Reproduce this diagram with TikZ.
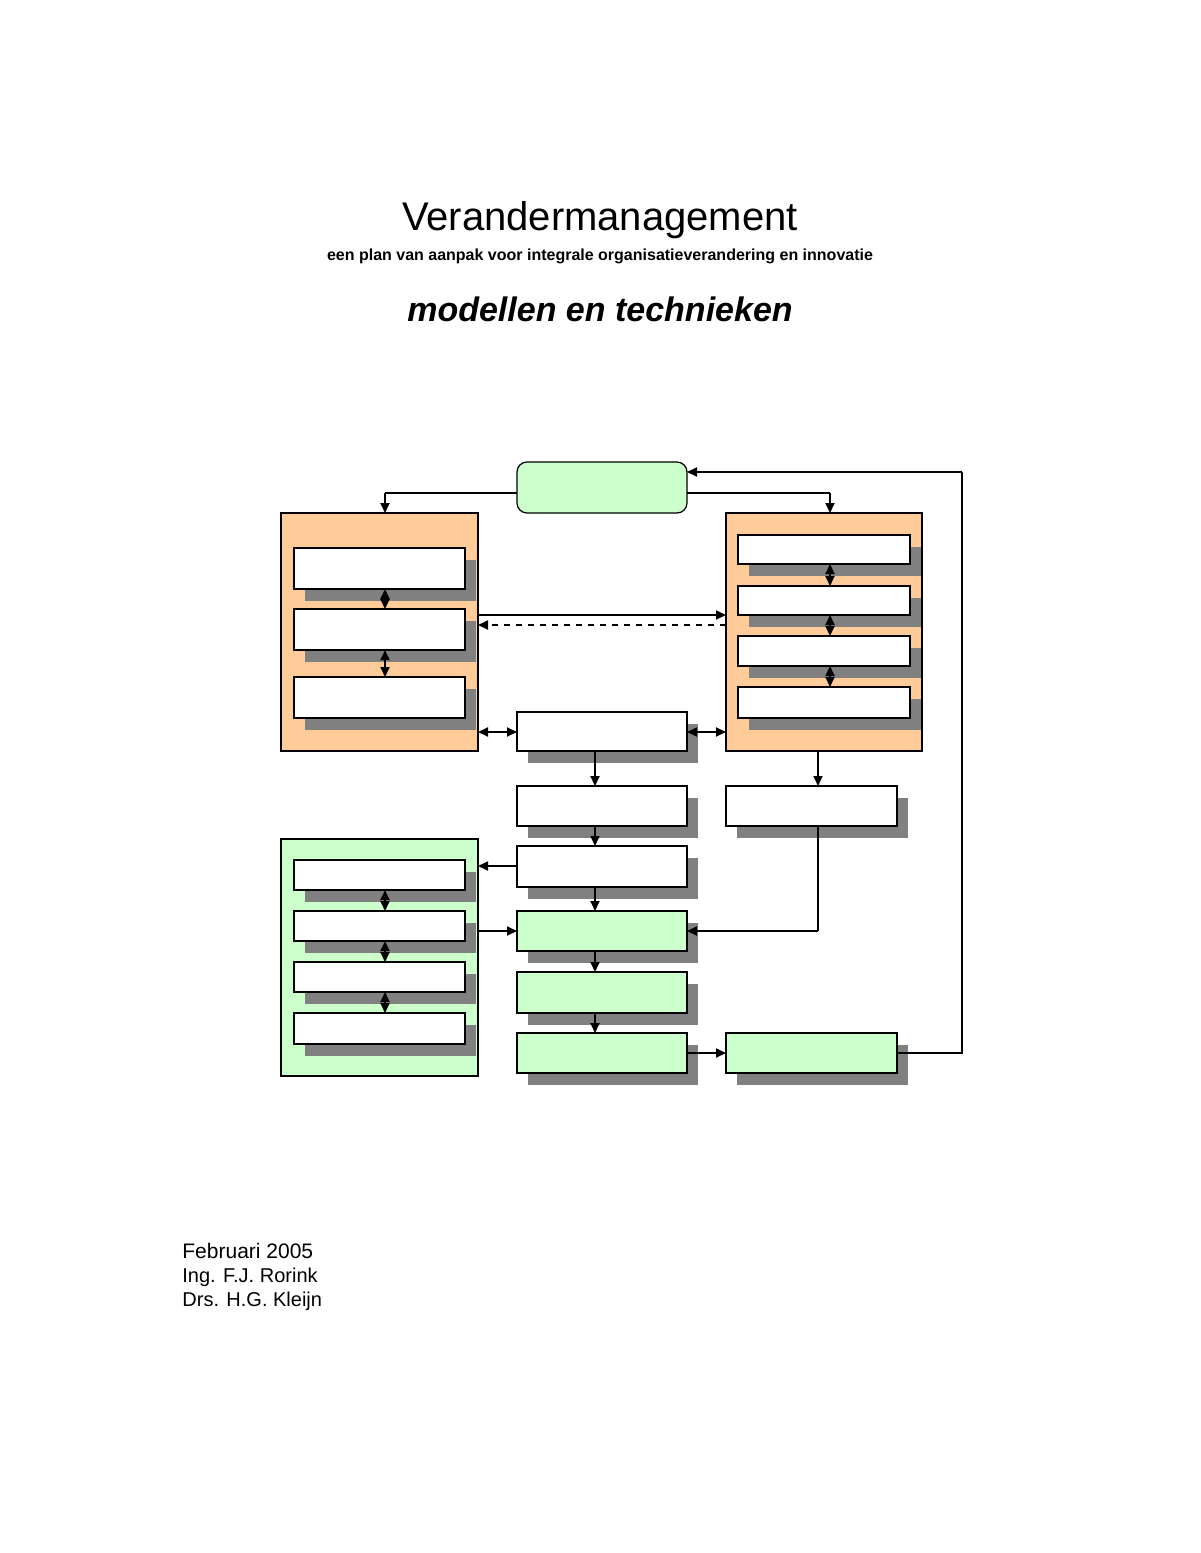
\documentclass[tikz,border=0pt]{standalone}
\usepackage{fontspec}
\setmainfont{Liberation Sans}
\usetikzlibrary{arrows.meta}
\begin{document}
\begin{tikzpicture}[x=0.5pt,y=-0.5pt,
  ar/.style={line width=0.9pt,-{Triangle[length=5pt,width=4.5pt]}},
  dar/.style={line width=0.9pt,{Triangle[length=5pt,width=4.5pt]}-{Triangle[length=5pt,width=4.5pt]}},
  ln/.style={line width=0.6pt}]
\useasboundingbox (0,0) rectangle (1200,1553);
\definecolor{org}{RGB}{255,204,153}
\definecolor{grn}{RGB}{204,255,204}
\definecolor{shd}{RGB}{128,128,128}
\node (title) at (600,220) {\fontsize{20}{24}\selectfont Verandermanagement};
\node (sub) at (600,256) {\fontsize{8}{10}\selectfont\bfseries een plan van aanpak voor integrale organisatieverandering en innovatie};
\node (mod) at (600,309) {\fontsize{17}{20}\selectfont\bfseries\itshape modellen en technieken};
\node[anchor=north west,align=left,inner sep=0] (auth) at (182,1243) {\fontsize{10.5}{12.6}\selectfont Februari 2005\\Ing. F.J. Rorink\\Drs. H.G. Kleijn};
% containers
\fill[org] (281,513) rectangle (478,751); \draw[ln] (281,513) rectangle (478,751);
\fill[org] (726,513) rectangle (922,751); \draw[ln] (726,513) rectangle (922,751);
\fill[grn] (281,839) rectangle (478,1076); \draw[ln] (281,839) rectangle (478,1076);
\foreach \a/\b/\c/\d/\f in {294/548/465/589/white,294/609/465/650/white,294/677/465/718/white,
 738/535/910/564/white,738/586/910/615/white,738/636/910/666/white,738/687/910/718/white,
 517/712/687/751/white,517/786/687/826/white,726/786/897/826/white,517/846/687/887/white,
 517/911/687/951/grn,517/972/687/1013/grn,517/1033/687/1073/grn,726/1033/897/1073/grn,
 294/860/465/890/white,294/911/465/941/white,294/962/465/992/white,294/1013/465/1044/white}{
 \fill[shd] (\a+11,\b+12) rectangle (\c+11,\d+12);
 \draw[ln,fill=\f] (\a,\b) rectangle (\c,\d);}
\draw[ln,fill=grn,rounded corners=5pt] (517,462) rectangle (687,513);
% connectors
\draw[ln] (517,493) -- (385,493); \draw[ar] (385,493) -- (385,513);
\draw[ln] (687,493) -- (830,493); \draw[ar] (830,493) -- (830,513);
\draw[ln] (897,1053) -- (962,1053) -- (962,472); \draw[ar] (962,472) -- (687,472);
\foreach \y/\z in {589/609,650/677} \draw[dar] (385,\y) -- (385,\z);
\foreach \y/\z in {564/586,615/636,666/687} \draw[dar] (830,\y) -- (830,\z);
\foreach \y/\z in {890/911,941/962,992/1013} \draw[dar] (385,\y) -- (385,\z);
\draw[ar] (478,615) -- (726,615);
\draw[ar,dashed] (726,625) -- (478,625);
\draw[dar] (478,732) -- (517,732);
\draw[dar] (687,732) -- (726,732);
\foreach \y/\z in {751/786,826/846,887/911,951/972,1013/1033} \draw[ar] (595,\y) -- (595,\z);
\draw[ar] (818,751) -- (818,786);
\draw[ar] (517,866) -- (478,866);
\draw[ar] (478,931) -- (517,931);
\draw[ln] (818,826) -- (818,931); \draw[ar] (818,931) -- (687,931);
\draw[ar] (687,1053) -- (726,1053);
\end{tikzpicture}
\end{document}
